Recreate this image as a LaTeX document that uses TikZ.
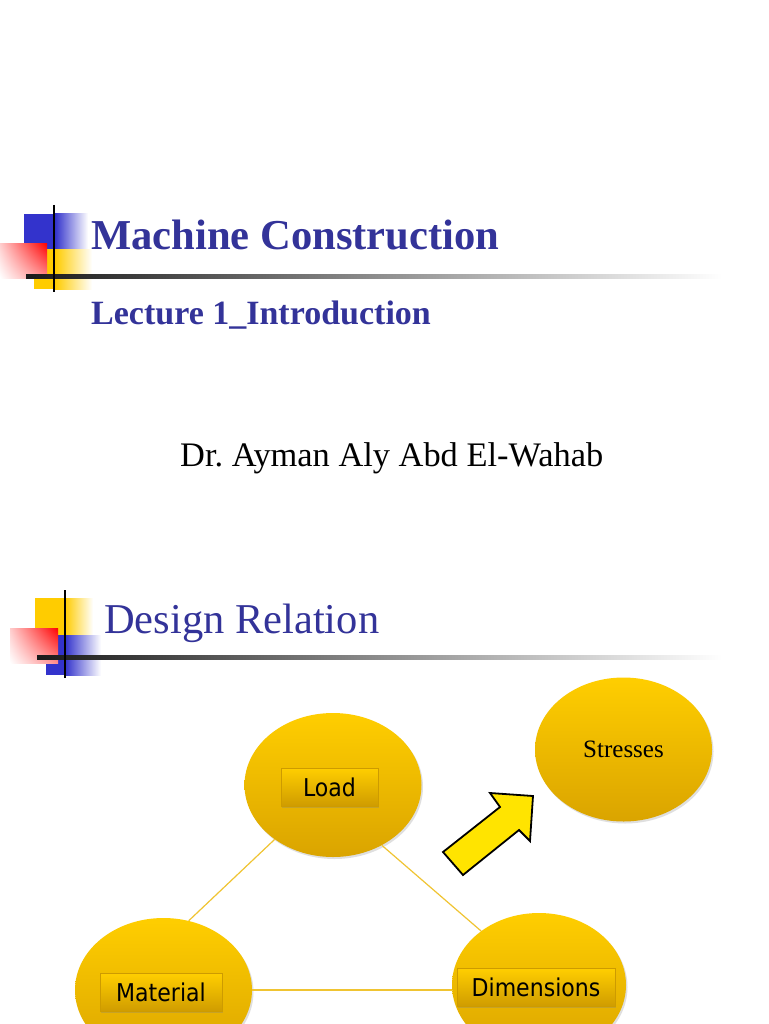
\documentclass[tikz,border=0pt]{standalone}
\usepackage{fontspec}
\setmainfont{Liberation Serif}
\newfontfamily\labelfont{DejaVu Sans Condensed}
\usetikzlibrary{shapes.geometric,shadows,shadings}
\frenchspacing

\definecolor{titleblue}{RGB}{51,51,153}
\definecolor{sqblue}{RGB}{51,51,204}
\definecolor{sqyellow}{RGB}{255,204,0}
\definecolor{goldtop}{RGB}{255,206,0}
\definecolor{goldbottom}{RGB}{218,164,0}
\definecolor{boxedge}{RGB}{205,155,0}
\definecolor{linkgold}{RGB}{240,196,50}
\definecolor{arrowyellow}{RGB}{255,228,0}

\tikzset{
  bubble/.style={ellipse, minimum width=177pt, minimum height=144pt, inner sep=0pt,
    top color=goldtop, bottom color=goldbottom,
    drop shadow={opacity=0.25, shadow xshift=1.5pt, shadow yshift=-2pt}},
  tag/.style={rectangle, minimum height=38pt, inner sep=0pt, draw=boxedge, line width=0.6pt,
    top color=goldtop, bottom color=goldbottom!95!black,
    drop shadow={opacity=0.3, shadow xshift=1pt, shadow yshift=-1.5pt},
    font=\labelfont\fontsize{24.5}{28}\selectfont},
  link/.style={draw=linkgold, line width=1.2pt}
}

\begin{document}
\begin{tikzpicture}[x=1pt,y=-1pt]
\useasboundingbox (0,0) rectangle (768,1024);
\fill[white] (0,0) rectangle (768,1024);

% first slide
\fill[sqblue] (24,214) rectangle (55,249);
\shade[left color=sqblue, right color=white] (55,214) rectangle (88,249);
\fill[sqyellow] (34,249) rectangle (55,289);
\shade[left color=sqyellow, right color=white] (55,249) rectangle (92,289);
\shade[upper right=red, upper left=red!20, lower left=white, lower right=red!45] (0,243) rectangle (47,278);
\shade[left color=black!90, middle color=black!55, right color=white] (26,274) rectangle (722,278);
\draw[line width=2pt] (54,205) -- (54,292);

\node[anchor=base west, inner sep=0pt, text=titleblue, font=\bfseries\fontsize{42.6}{48}\selectfont] (title) at (91,249) {Machine Construction};
\node[anchor=base west, inner sep=0pt, text=titleblue, font=\bfseries\fontsize{34}{38}\selectfont] (lecture) at (91,324) {Lecture 1\_Introduction};
\node[anchor=base west, inner sep=0pt, font=\fontsize{34.4}{40}\selectfont] (author) at (180,466) {Dr. Ayman Aly Abd El-Wahab};

% second slide
\fill[sqyellow] (35,598) rectangle (65,635);
\shade[left color=sqyellow, right color=white] (65,598) rectangle (93,635);
\fill[sqblue] (46,635) rectangle (65,675);
\shade[left color=sqblue, right color=white] (65,635) rectangle (101,675);
\shade[upper right=red, upper left=red!20, lower left=white, lower right=red!45] (10,628) rectangle (58,663);
\shade[left color=black!90, middle color=black!55, right color=white] (37,655) rectangle (722,659);
\draw[line width=2pt] (65,590) -- (65,678);

\node[anchor=base west, inner sep=0pt, text=titleblue, font=\fontsize{42.5}{48}\selectfont] (design) at (104,633) {Design Relation};

\node[bubble] (load) at (333,785) {};
\node[bubble] (stresses) at (623.5,749.5) {\fontsize{25}{28}\selectfont Stresses};
\node[bubble] (material) at (163.5,990) {};
\node[bubble, minimum width=174pt] (dims) at (539,985) {};

\node[tag, minimum width=97pt] (loadtag) at (329.5,787) {Load};
\node[tag, minimum width=122pt] (materialtag) at (161,992.5) {Material};
\node[tag, minimum width=158pt] (dimstag) at (536,987.5) {Dimensions};

\draw[link] (load.223) -- (material.70);
\draw[link] (load.309) -- (dims.137);
\draw[link] (material.east) -- (material.east -| dims.west);

\draw[fill=arrowyellow, line width=1.8pt, line join=miter]
  (443,852) -- (500,807) -- (490,793) -- (533,796) -- (530,841) -- (519,830) -- (463,875) -- cycle;
\end{tikzpicture}
\end{document}
